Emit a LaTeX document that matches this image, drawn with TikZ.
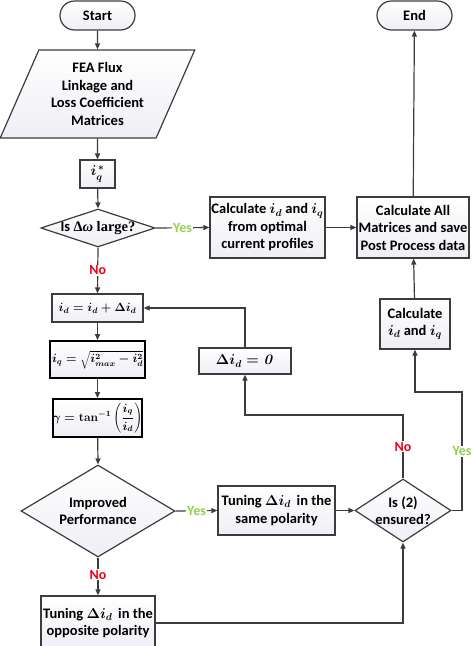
\documentclass[tikz,border=0pt]{standalone}
\usepackage[no-math]{fontspec}
\setmainfont{Carlito}
\newfontfamily\serfam{Liberation Serif}
\usetikzlibrary{shapes.geometric,arrows.meta}
\definecolor{linec}{RGB}{60,60,60}
\definecolor{fillb}{RGB}{238,238,245}
\definecolor{yesg}{RGB}{146,208,80}
\definecolor{nor}{RGB}{240,0,20}
\tikzset{
  txt/.style={inner sep=0pt, align=center, text=black,
    font=\fontsize{14.5}{17.5}\selectfont\bfseries\boldmath},
  mathf/.style={font=\fontsize{#1}{15}\selectfont\bfseries\boldmath},
  base/.style={txt, draw=linec, line width=1.2pt, top color=white, bottom color=fillb},
  boxn/.style={base, rectangle, minimum width=#1},
  thickbox/.style={boxn=#1, draw=black, line width=1.8pt},
  term/.style={base, rectangle, rounded corners=14.5pt, minimum width=75pt, minimum height=29pt},
  dia/.style={base, diamond},
  conn/.style={draw=linec, line width=1.2pt, -{Triangle[length=6pt,width=5pt]}},
  yeslab/.style={fill=white, inner sep=1pt, text=yesg, font=\fontsize{14}{16}\selectfont\bfseries},
  nolab/.style={fill=white, inner sep=1pt, text=nor, font=\fontsize{14}{16}\selectfont\bfseries}
}
\begin{document}
\begin{tikzpicture}[x=1pt,y=-1pt]
\useasboundingbox (0,0) rectangle (474,646);
% nodes
\node[term] (start) at (97.5,15.5) {Start};
\node[term] (endn) at (414.5,15.5) {End};
\node[base, trapezium, trapezium left angle=64, trapezium right angle=116,
      trapezium stretches=true, minimum width=195pt, minimum height=88pt] (fea) at (97.5,94)
      {FEA Flux\\Linkage and\\Loss Coefficient\\Matrices};
\node[boxn=35pt, minimum height=28pt] (iqs) at (97.5,174) {$i_q^{\,*}$};
\node[dia, minimum width=114pt, minimum height=38pt] (d1) at (98,228) {};
\node[txt] (d1t) at (d1) {Is {\serfam Δ\textit{ω} large?}};
\node[boxn=115pt, minimum height=61pt] (calc1) at (267.5,227.5)
      {Calculate $i_d$ and $i_q$\\from optimal\\current profiles};
\node[boxn=112pt, minimum height=61pt] (calcall) at (413,227.5)
      {Calculate All\\Matrices and save\\Post Process data};
\node[boxn=91pt, minimum height=28pt, mathf=12] (idb) at (97.5,308) {$i_d = i_d + \Delta i_d$};
\node[thickbox=95pt, minimum height=37pt, mathf=12] (iqb) at (97.5,359.5) {$i_q = \sqrt{i_{max}^2 - i_d^2}$};
\node[thickbox=89pt, minimum height=38pt, mathf=12] (gam) at (97.5,418) {$\gamma = \tan^{-1}\left(\displaystyle\frac{i_q}{i_d}\right)$};
\node[dia, minimum width=154pt, minimum height=92pt] (d2) at (98,511) {};
\node[txt] (d2t) at (d2) {Improved\\Performance};
\node[boxn=117pt, minimum height=49pt] (same) at (276.5,510.5) {Tuning $\Delta i_d$\, in the\\same polarity};
\node[dia, minimum width=96pt, minimum height=63pt] (d3) at (403,510.5) {};
\node[txt] (d3t) at (d3) {Is (2)\\ensured?};
\node[boxn=114pt, minimum height=54pt] (opp) at (98,623) {Tuning $\Delta i_d$\, in the\\opposite polarity};
\node[boxn=92pt, minimum height=26pt] (dz) at (245,361) {$\Delta i_d = \mathit{0}$};
\node[boxn=70pt, minimum height=50pt] (calc2) at (415,324) {Calculate\\$i_d$ and $i_q$};
% helper coordinates
\coordinate (nk) at (403,415);
\coordinate (y1) at (462,510.5);
\coordinate (y2) at (462,392);
% connectors
\draw[conn] (start) -- (fea);
\draw[conn] (fea) -- (iqs);
\draw[conn] (iqs) -- (d1.north);
\draw[conn] (d1.east) -- node[yeslab] {Yes} (calc1.west);
\draw[conn] (calc1) -- (calcall);
\draw[conn] (calcall) -- (endn);
\draw[conn] (d1.south) -- node[nolab] {No} (idb.north);
\draw[conn] (idb) -- (iqb);
\draw[conn] (iqb) -- (gam);
\draw[conn] (gam) -- (d2.north);
\draw[conn] (d2.east) -- node[yeslab] {Yes} (same.west);
\draw[conn] (same) -- (d3.west);
\draw[conn] (d2.south) -- node[nolab, pos=0.45] {No} (opp.north);
\draw[conn] (opp.east) -| (d3.south);
\draw[conn] (d3.north) -- node[nolab] {No} (nk) -| (dz.south);
\draw[conn] (dz.north) |- (idb.east);
\draw[conn] (d3.east) -- (y1) -- node[yeslab] {Yes} (y2) -| (calc2.south);
\draw[conn] (calc2) -- (calcall);
\end{tikzpicture}
\end{document}
